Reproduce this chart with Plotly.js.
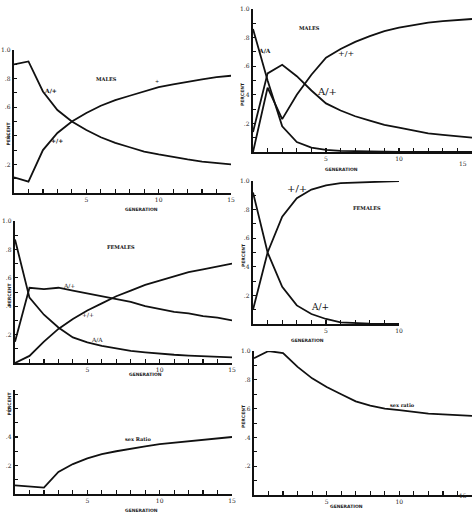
<!DOCTYPE html>
<html>
<head>
<meta charset="utf-8">
<script src="https://cdn.plot.ly/plotly-3.0.1.min.js"></script>
<style>
html,body{margin:0;padding:0;background:#fff;}
#chart{width:474px;height:526px;}
</style>
</head>
<body>
<div id="chart"></div>
<script>
// ---- data ----
const gen15 = [0,1,2,3,4,5,6,7,8,9,10,11,12,13,14,15];
const gen10 = [0,1,2,3,4,5,6,7,8,9,10];

// Panel 1: males (left column)
const males1Aplus    = [0.90,0.92,0.71,0.58,0.50,0.44,0.39,0.35,0.32,0.29,0.27,0.25,0.235,0.22,0.21,0.20];
const males1PlusPlus = [0.11,0.08,0.30,0.42,0.50,0.56,0.61,0.65,0.68,0.71,0.74,0.76,0.78,0.795,0.81,0.82];

// Panel 2: females (left column)
const fem1AA       = [0.87,0.46,0.34,0.25,0.18,0.145,0.12,0.10,0.085,0.075,0.065,0.058,0.052,0.047,0.043,0.04];
const fem1Aplus    = [0.15,0.53,0.52,0.53,0.51,0.49,0.47,0.45,0.43,0.40,0.38,0.36,0.35,0.33,0.32,0.30];
const fem1PlusPlus = [0.0,0.05,0.15,0.24,0.31,0.37,0.42,0.47,0.51,0.55,0.58,0.61,0.64,0.66,0.68,0.70];

// Panel 3: sex ratio (left column)
const sexRatio1 = [0.06,0.055,0.045,0.155,0.21,0.25,0.28,0.30,0.32,0.335,0.35,0.36,0.37,0.38,0.39,0.40];

// Panel 4: males (right column)
const males2AA       = [0.86,0.50,0.18,0.07,0.03,0.015,0.008,0.005,0.003,0.002,0.001,0.001,0.0,0.0,0.0,0.0];
const males2Aplus    = [0.14,0.55,0.61,0.53,0.43,0.34,0.29,0.25,0.22,0.19,0.17,0.15,0.13,0.12,0.11,0.10];
const males2PlusPlus = [0.0,0.45,0.23,0.40,0.54,0.66,0.72,0.77,0.81,0.845,0.87,0.89,0.905,0.915,0.925,0.93];

// Panel 5: females (right column)
const fem2PlusPlus = [0.10,0.50,0.75,0.88,0.94,0.97,0.985,0.99,0.995,1.0,1.0];
const fem2Aplus    = [0.92,0.50,0.26,0.13,0.07,0.035,0.012,0.005,0.002,0.0,0.0];

// Panel 6: sex ratio (right column)
const sexRatio2 = [0.95,1.0,0.985,0.89,0.81,0.75,0.70,0.65,0.62,0.60,0.59,0.575,0.565,0.56,0.555,0.55];

// tick labels
const yTickVals = [0.2,0.4,0.6,0.8,1.0];
const yTickText = ['.2','.4','.6','.8','1.0'];
const yTickVals3 = [0.2,0.4,0.6];
const yTickText3 = ['.2','.4','.6'];
const xTickVals = [5,10,15];
const xTickText = ['5','10','15'];
const xTickTextEdge = ['5','10',''];   // '15' at the page edge is drawn as an annotation
const xTickVals10 = [5,10];
const xTickText10 = ['5','10'];
const xMinor15 = gen15;
const xMinor10 = gen10;
const yMinor = [0.1,0.2,0.3,0.4,0.5,0.6,0.7,0.8,0.9];

// ---- layout helpers ----
const W = 474, H = 526;
const px = v => v / W;
const py = v => 1 - v / H;
const LINE = {color:'#111', width:1.8};
const tickFont = {family:'DejaVu Serif', size:6, color:'#222'};

function xax(x0, x1, yAnchor, range, tv, tt, mv) {
  return {
    domain:[px(x0), px(x1)], anchor:yAnchor, range:range,
    showgrid:false, zeroline:false, showline:true, linecolor:'#111', linewidth:2.2,
    ticks:'inside', ticklen:4, tickcolor:'#111', tickwidth:1.2,
    tickmode:'array', tickvals:tv, ticktext:tt, tickfont:tickFont,
    minor:{tickmode:'array', tickvals:mv, ticks:'inside', ticklen:4, tickcolor:'#111', tickwidth:1.2, showgrid:false},
    fixedrange:true
  };
}
function yax(yTop, yBot, xAnchor, range, tv, tt) {
  return {
    domain:[py(yBot), py(yTop)], anchor:xAnchor, range:range,
    showgrid:false, zeroline:false, showline:true, linecolor:'#111', linewidth:2.2,
    ticks:'inside', ticklen:3, tickcolor:'#111', tickwidth:1.2,
    tickmode:'array', tickvals:tv, ticktext:tt, tickfont:tickFont,
    minor:{tickmode:'array', tickvals:yMinor, ticks:'inside', ticklen:3, tickcolor:'#111', tickwidth:1, showgrid:false},
    fixedrange:true
  };
}
function tr(x, y, xa, ya) {
  return {x:x, y:y, xaxis:xa, yaxis:ya, type:'scatter', mode:'lines', line:LINE, showlegend:false, hoverinfo:'skip'};
}

const data = [
  tr(gen15, males1Aplus, 'x', 'y'),
  tr(gen15, males1PlusPlus, 'x', 'y'),
  tr(gen15, fem1AA, 'x2', 'y2'),
  tr(gen15, fem1Aplus, 'x2', 'y2'),
  tr(gen15, fem1PlusPlus, 'x2', 'y2'),
  tr(gen15, sexRatio1, 'x3', 'y3'),
  tr(gen15, males2AA, 'x4', 'y4'),
  tr(gen15, males2Aplus, 'x4', 'y4'),
  tr(gen15, males2PlusPlus, 'x4', 'y4'),
  tr(gen10, fem2PlusPlus, 'x5', 'y5'),
  tr(gen10, fem2Aplus, 'x5', 'y5'),
  tr(gen15, sexRatio2, 'x6', 'y6')
];

function lab(text, x, y, xr, yr, size, bold) {
  return {text:bold ? '<b>'+text+'</b>' : text, x:x, y:y, xref:xr, yref:yr, showarrow:false,
    font:{family:'DejaVu Serif', size:size, color:'#111'}};
}
function plab(text, x, y, size, angle) {
  return {text:'<b>'+text+'</b>', x:px(x), y:py(y), xref:'paper', yref:'paper', showarrow:false,
    textangle:angle||0, font:{family:'DejaVu Sans', size:size, color:'#222'}};
}
function tlab(text, x, y) {
  return {text:text, x:px(x), y:py(y), xref:'paper', yref:'paper', showarrow:false, font:tickFont};
}

const annotations = [
  // panel 1
  lab('MALES', 6.4, 0.80, 'x', 'y', 5, true),
  lab('A/+', 2.5, 0.72, 'x', 'y', 6, true),
  lab('+/+', 3.0, 0.37, 'x', 'y', 6, true),
  lab('+', 9.9, 0.78, 'x', 'y', 5, false),
  // panel 2
  lab('FEMALES', 7.3, 0.82, 'x2', 'y2', 5, true),
  lab('A/+', 3.7, 0.545, 'x2', 'y2', 6, false),
  lab('+/+', 5.05, 0.34, 'x2', 'y2', 6, false),
  lab('A/A', 5.7, 0.165, 'x2', 'y2', 6, false),
  // panel 3
  lab('sex Ratio', 8.5, 0.385, 'x3', 'y3', 5, true),
  // panel 4
  lab('MALES', 3.9, 0.87, 'x4', 'y4', 5, true),
  lab('A/A', 0.8, 0.71, 'x4', 'y4', 6, true),
  lab('+/+', 6.4, 0.69, 'x4', 'y4', 8, false),
  lab('A/+', 5.1, 0.42, 'x4', 'y4', 10, false),
  // panel 5
  lab('+/+', 3.0, 0.95, 'x5', 'y5', 10, false),
  lab('A/+', 4.6, 0.12, 'x5', 'y5', 9, false),
  lab('FEMALES', 7.8, 0.81, 'x5', 'y5', 5, true),
  // panel 6
  lab('sex ratio', 10.2, 0.625, 'x6', 'y6', 5, true),
  // '15' tick labels at the right page edge
  tlab('15', 469, 158), tlab('15', 469, 501),
  // axis titles
  plab('GENERATION', 123, 209, 4.5), plab('GENERATION', 127, 379, 4.5), plab('GENERATION', 123, 515, 4.5),
  plab('GENERATION', 360, 165, 4.5), plab('GENERATION', 326, 340, 4.5), plab('GENERATION', 365, 511, 4.5),
  plab('PERCENT', 4, 120, 4.5, -90), plab('PERCENT', 4, 295, 4.5, -90), plab('PERCENT', 4, 418, 4.5, -90),
  plab('PERCENT', 243, 80, 4.5, -90), plab('PERCENT', 243, 255, 4.5, -90), plab('PERCENT', 243, 430, 4.5, -90)
];

const layout = {
  width:W, height:H, margin:{l:0,r:0,t:0,b:0},
  paper_bgcolor:'#fff', plot_bgcolor:'rgba(0,0,0,0)',
  showlegend:false,
  xaxis:  xax(14, 231, 'y',  [0,15], xTickVals, xTickText, xMinor15),
  yaxis:  yax(50, 193, 'x',  [0,1.0], yTickVals, yTickText),
  xaxis2: xax(15, 232, 'y2', [0,15], xTickVals, xTickText, xMinor15),
  yaxis2: yax(221, 363, 'x2', [0,1.0], yTickVals, yTickText),
  xaxis3: xax(15, 232, 'y3', [0,15], xTickVals, xTickText, xMinor15),
  yaxis3: yax(390, 494, 'x3', [0,0.73], yTickVals3, yTickText3),
  xaxis4: xax(253, 472, 'y4', [0,15], xTickVals, xTickTextEdge, xMinor15),
  yaxis4: yax(9, 152, 'x4', [0,1.0], yTickVals, yTickText),
  xaxis5: xax(253, 399, 'y5', [0,10], xTickVals10, xTickText10, xMinor10),
  yaxis5: yax(181, 324, 'x5', [0,1.0], yTickVals, yTickText),
  xaxis6: xax(254, 472, 'y6', [0,15], xTickVals, xTickTextEdge, xMinor15),
  yaxis6: yax(351, 495, 'x6', [0,1.0], yTickVals, yTickText),
  annotations:annotations
};

Plotly.newPlot('chart', data, layout, {displayModeBar:false, staticPlot:true});
</script>
</body>
</html>
